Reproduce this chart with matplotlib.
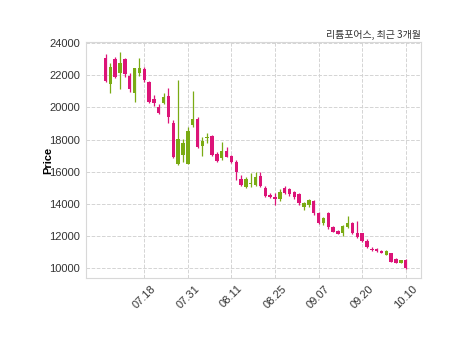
import numpy as np
import matplotlib
matplotlib.use('Agg')
import matplotlib.pyplot as plt

plt.rcParams['font.family'] = ['Liberation Sans', 'Noto Sans CJK KR', 'DejaVu Sans']

dates = ['07.06', '07.07', '07.10', '07.11', '07.12', '07.13', '07.14', '07.17', '07.18', '07.19',
         '07.20', '07.21', '07.24', '07.25', '07.26', '07.27', '07.28', '07.31', '08.01', '08.02',
         '08.03', '08.04', '08.07', '08.08', '08.09', '08.10', '08.11', '08.14', '08.16', '08.17',
         '08.18', '08.21', '08.22', '08.23', '08.24', '08.25', '08.28', '08.29', '08.30', '08.31',
         '09.01', '09.04', '09.05', '09.06', '09.07', '09.08', '09.11', '09.12', '09.13', '09.14',
         '09.15', '09.18', '09.19', '09.20', '09.21', '09.22', '09.25', '09.26', '09.27', '10.04',
         '10.05', '10.06', '10.10']

opens = [23050, 21430, 23000, 22115, 22985, 21966, 20910, 22115, 22365, 21555,
         20500, 20040, 20290, 20720, 19000, 16470, 17030, 16500, 18900, 19250,
         17610, 18100, 18210, 17090, 16830, 17300, 16970, 16610, 15520, 15020,
         15230, 15165, 15725, 15000, 14540, 14400, 14275, 14960, 14900, 14750,
         14590, 13815, 13900, 14200, 13440, 12780, 13400, 12530, 12320, 12160,
         12570, 12780, 12200, 12180, 11700, 11220, 11160, 11080, 10810, 10915,
         10540, 10330, 10500]
highs = [23350, 22775, 23150, 23460, 23050, 22115, 22450, 23050, 22525, 21650,
         20765, 20190, 20910, 21180, 19200, 21700, 18010, 18790, 21010, 19410,
         18170, 18380, 18280, 17240, 17860, 17550, 17050, 16700, 15790, 15640,
         15890, 15990, 15990, 15100, 14650, 14650, 14940, 15100, 15000, 14800,
         14650, 14125, 14300, 14250, 13500, 13150, 13500, 12600, 12400, 12680,
         13230, 12880, 12960, 12200, 11800, 11300, 11250, 11100, 11100, 10950,
         10600, 10530, 10560]
lows = [21600, 20870, 21800, 21120, 21900, 20970, 20350, 21950, 21590, 20250,
        20080, 19580, 20200, 19000, 16830, 16410, 16610, 16470, 18790, 17450,
        16970, 17760, 16970, 16610, 16720, 16890, 16560, 15480, 15100, 14960,
        15060, 15120, 15060, 14400, 14370, 13920, 14200, 14620, 14500, 14300,
        13950, 13610, 13800, 13300, 12750, 12700, 12450, 12220, 12100, 12000,
        12500, 12110, 11900, 11620, 11250, 11050, 11000, 10950, 10800, 10350,
        10300, 10300, 9950]
closes = [21650, 22525, 21870, 22775, 22050, 21120, 22425, 22445, 21700, 20350,
          20290, 19630, 20620, 19410, 16920, 18010, 17800, 18540, 19250, 17550,
          17920, 18150, 17030, 16680, 17300, 16925, 16610, 15990, 15165, 15520,
          15300, 15640, 15100, 14480, 14440, 14275, 14750, 14690, 14605, 14450,
          14060, 14063, 14230, 13420, 12780, 13090, 12530, 12260, 12120, 12610,
          12820, 12160, 11960, 11700, 11330, 11120, 11060, 10950, 11080, 10390,
          10330, 10500, 9980]

up_color = '#7aab14'
down_color = '#dc1478'

fig = plt.figure(figsize=(4.74, 3.4), dpi=100)
ax = fig.add_axes([0.181, 0.182, 0.707, 0.694])

x = np.arange(len(dates))
o = np.array(opens)
c = np.array(closes)
colors = [up_color if cc >= oo else down_color for oo, cc in zip(o, c)]

ax.vlines(x, lows, highs, colors=colors, linewidth=0.9, zorder=2)
body_h = np.maximum(np.abs(c - o), 40)
ax.bar(x, body_h, bottom=np.minimum(o, c), width=0.7, color=colors, linewidth=0, zorder=3)

tick_idx = list(range(8, len(dates), 9))
ax.set_xticks(tick_idx)
ax.set_xticklabels([dates[i] for i in tick_idx], rotation=45, fontsize=8, color='#333333')
ax.set_yticks(range(10000, 24001, 2000))
ax.tick_params(axis='y', labelsize=8, colors='#333333')
ax.tick_params(length=0, pad=4)

ax.set_xlim(-4.07, 65.14)
ax.set_ylim(9378, 24060)

ax.grid(True, linestyle='--', color='#d4d4d4', linewidth=0.7, zorder=0)
ax.set_axisbelow(True)
for s in ax.spines.values():
    s.set_color('#d8d8d8')

ax.set_ylabel('Price', fontsize=8, fontweight='bold', labelpad=-3)
ax.set_title('리튬포어스, 최근 3개월', loc='right', fontsize=7.2,
             family=['Noto Sans CJK KR', 'DejaVu Sans'], color='#333333', pad=3)

fig.savefig('out.png', dpi=100)
